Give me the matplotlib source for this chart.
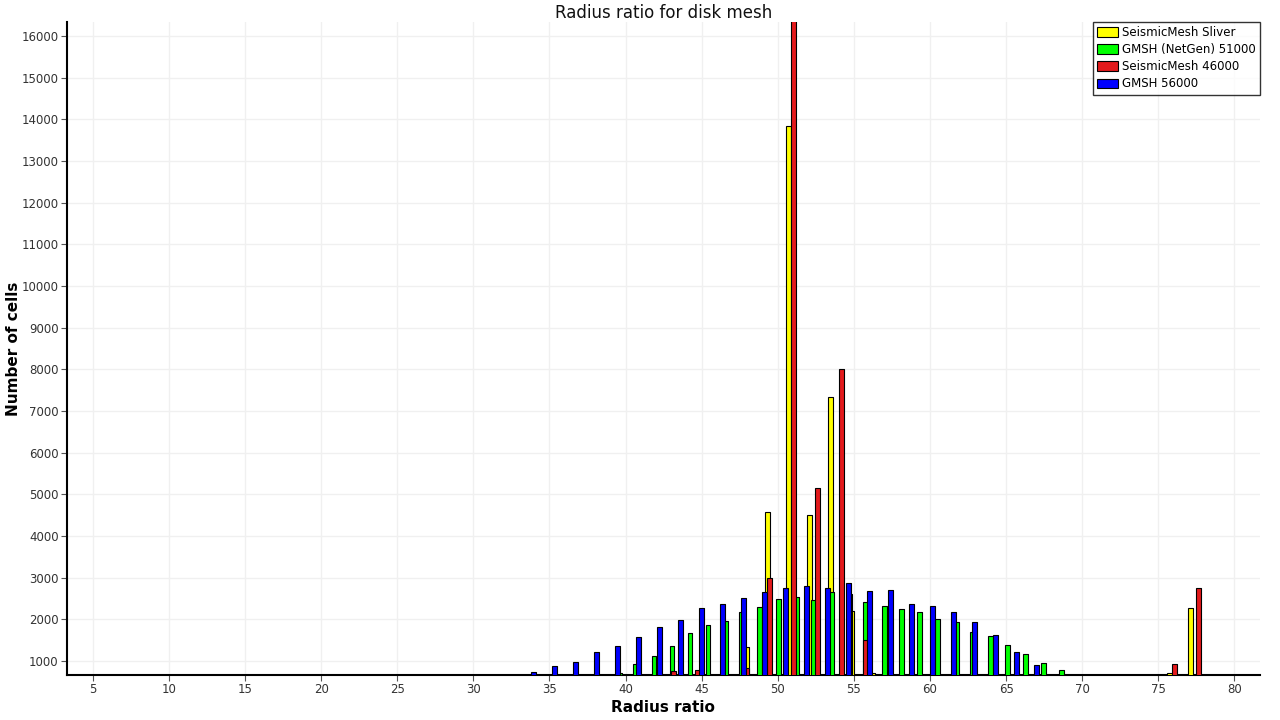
import matplotlib
matplotlib.use("Agg")
import matplotlib.pyplot as plt

# bin centres (radius ratio) and cell counts, one pair per series
sliver_x = [47.95, 49.33, 50.71, 52.09, 53.47, 54.85, 56.22, 75.73, 77.11]
sliver_y = [1336, 4576, 13840, 4504, 7336, 2200, 705, 700, 2260]

netgen_x = [39.6, 40.66, 41.87, 43.06, 44.23, 45.41, 46.55, 47.59, 48.80, 50.05,
            51.23, 52.35, 53.53, 54.71, 55.77, 57.01, 58.13, 59.31, 60.49, 61.74,
            62.79, 63.97, 65.09, 66.27, 67.45, 68.64]
netgen_y = [700, 928, 1120, 1360, 1672, 1864, 1960, 2176, 2296, 2480,
            2536, 2464, 2656, 2600, 2416, 2320, 2248, 2176, 2008, 1936,
            1696, 1600, 1384, 1168, 952, 784]

sm46_x = [43.16, 44.73, 47.95, 49.46, 51.04, 52.61, 54.19, 55.77, 76.06, 77.63]
sm46_y = [760, 784, 832, 2992, 19000, 5152, 8008, 1504, 928, 2740]

gmsh_x = [33.96, 35.34, 36.72, 38.10, 39.48, 40.86, 42.24, 43.62, 45.00, 46.37,
          47.75, 49.13, 50.51, 51.89, 53.27, 54.65, 56.03, 57.41, 58.79, 60.17,
          61.55, 62.92, 64.30, 65.68, 67.00]
gmsh_y = [736, 880, 976, 1216, 1360, 1576, 1816, 1984, 2272, 2368,
          2512, 2656, 2752, 2800, 2752, 2872, 2680, 2704, 2368, 2320,
          2176, 1936, 1624, 1216, 904]

series = [
    ("SeismicMesh Sliver", sliver_x, sliver_y, "#ffff00"),
    ("GMSH (NetGen) 51000", netgen_x, netgen_y, "#00ff00"),
    ("SeismicMesh 46000", sm46_x, sm46_y, "#e31a1c"),
    ("GMSH 56000", gmsh_x, gmsh_y, "#0000ff"),
]

plt.rcParams["font.family"] = "DejaVu Sans"

fig = plt.figure(figsize=(12.8, 7.2), dpi=100)
ax = fig.add_axes([0.0523, 0.0625, 0.9317, 0.907])

width = 0.3
for i, (name, xs, ys, col) in enumerate(series):
    # grey drop shadow, then the bar itself
    ax.bar([x + 0.07 for x in xs], ys, width=width, color="#7a7a7a",
           linewidth=0, zorder=2 + 2 * i)
    ax.bar(xs, ys, width=width, color=col, edgecolor="black",
           linewidth=0.8, label=name, zorder=3 + 2 * i)

ax.set_xlim(3.3, 81.65)
ax.set_ylim(664, 16336)
ax.set_xticks(range(5, 81, 5))
ax.set_yticks(range(1000, 16001, 1000))
ax.grid(True, color="#f0f0f0", linewidth=1)
ax.set_axisbelow(True)

for s in ("top", "right"):
    ax.spines[s].set_visible(False)
for s in ("left", "bottom"):
    ax.spines[s].set_linewidth(1.5)
ax.tick_params(axis="both", direction="out", length=4, color="#555555",
               labelsize=8.5, labelcolor="#333333", pad=2)

ax.set_title("Radius ratio for disk mesh", fontsize=12, pad=3, color="#111111")
ax.set_xlabel("Radius ratio", fontsize=11, fontweight="bold", labelpad=3)
ax.set_ylabel("Number of cells", fontsize=11, fontweight="bold", labelpad=0.5)

leg = ax.legend(loc="upper right", borderaxespad=0, fancybox=False,
                fontsize=8.5, handlelength=1.8, handleheight=0.9,
                handletextpad=0.3, labelspacing=0.35, borderpad=0.35)
leg.get_frame().set_edgecolor("black")
leg.get_frame().set_linewidth(1)
leg.set_zorder(20)

fig.savefig("out.png", dpi=100)
